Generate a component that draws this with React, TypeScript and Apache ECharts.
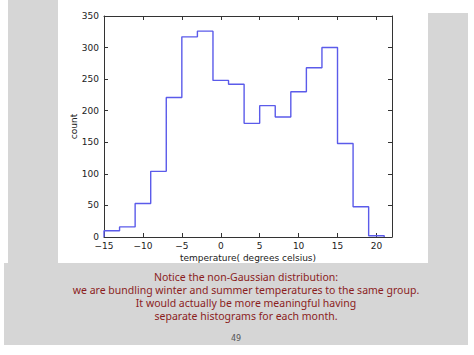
import React, { useEffect, useRef } from "react";
import * as echarts from "echarts";

// Histogram bin edges (degrees celsius) and counts per bin
const binEdges = [-15, -13, -11, -9, -7, -5, -3, -1, 1, 3, 5, 7, 9, 11, 13, 15, 17, 19, 21];
const binCounts = [10, 16, 53, 104, 221, 317, 326, 248, 242, 180, 208, 190, 230, 268, 300, 148, 48, 2];

const xTicks = [-15, -10, -5, 0, 5, 10, 15, 20];
const yTicks = [0, 50, 100, 150, 200, 250, 300, 350];

const captionLines = [
  "Notice the non-Gaussian distribution:",
  "we are bundling winter and summer temperatures to the same group.",
  "It would actually be more meaningful having",
  "separate histograms for each month.",
];
const pageNumber = "49";

const fmtMinus = (v: number) => String(v).replace("-", "\u2212");

// Outline of the grey brush-stroke frame (a U shape around the plot)
const frameOutline = [
  [8, 0], [58, 0], [58, 263], [428, 263], [428, 13], [468, 13],
  [468, 345], [4, 345], [4, 263], [8, 263],
];

export default function App() {
  const ref = useRef<HTMLDivElement>(null);

  useEffect(() => {
    if (!ref.current) return;
    const chart = echarts.init(ref.current, undefined, { renderer: "svg" });

    // Step outline: rise from zero at the first edge, fall back to zero at the last edge
    const stepData: number[][] = [[binEdges[0], 0]];
    binCounts.forEach((c, i) => stepData.push([binEdges[i], c]));
    stepData.push([binEdges[binEdges.length - 1], binCounts[binCounts.length - 1]]);
    stepData.push([binEdges[binEdges.length - 1], 0]);

    const axisLine = { show: true, onZero: false, lineStyle: { color: "#333", width: 1 } };
    const tickStyle = { show: true, inside: true, length: 4, lineStyle: { color: "#333" } };
    const labelStyle = { color: "#222", fontSize: 9, fontFamily: "DejaVu Sans" };

    chart.setOption({
      animation: false,
      graphic: {
        elements: [
          {
            type: "polygon",
            silent: true,
            z: 100,
            shape: { points: frameOutline },
            style: { fill: "#d6d6d6" },
          },
          {
            type: "text",
            z: 110,
            x: 246,
            y: 270,
            style: {
              text: captionLines.join("\n"),
              fill: "#8b1d1d",
              fontSize: 10.5,
              lineHeight: 13,
              fontFamily: "Noto Sans",
              align: "center",
              verticalAlign: "top",
            },
          },
          {
            type: "text",
            z: 110,
            x: 236,
            y: 338,
            style: {
              text: pageNumber,
              fill: "#555",
              fontSize: 8,
              fontFamily: "DejaVu Sans",
              align: "center",
              verticalAlign: "middle",
            },
          },
        ],
      },
      grid: { left: 104, top: 16, width: 288, height: 221, containLabel: false },
      xAxis: [
        {
          type: "value",
          min: -15,
          max: 22,
          interval: 5,
          name: "temperature( degrees celsius)",
          nameLocation: "middle",
          nameGap: 16,
          nameMoveOverlap: false,
          nameTextStyle: { color: "#222", fontSize: 9, fontFamily: "DejaVu Sans" },
          axisLine,
          axisTick: tickStyle,
          axisLabel: {
            ...labelStyle,
            margin: 4,
            showMaxLabel: false,
            formatter: (v: number) => (xTicks.includes(v) ? fmtMinus(v) : ""),
          },
          splitLine: { show: false },
        },
        {
          type: "value",
          position: "top",
          min: -15,
          max: 22,
          interval: 5,
          axisLine,
          axisTick: tickStyle,
          axisLabel: { show: false },
          splitLine: { show: false },
        },
      ],
      yAxis: [
        {
          type: "value",
          min: 0,
          max: 350,
          interval: 50,
          name: "count",
          nameLocation: "middle",
          nameGap: 26,
          nameMoveOverlap: false,
          nameTextStyle: { color: "#222", fontSize: 9, fontFamily: "DejaVu Sans" },
          axisLine,
          axisTick: tickStyle,
          axisLabel: {
            ...labelStyle,
            margin: 5,
            formatter: (v: number) => (yTicks.includes(v) ? String(v) : ""),
          },
          splitLine: { show: false },
        },
        {
          type: "value",
          position: "right",
          min: 0,
          max: 350,
          interval: 50,
          axisLine,
          axisTick: tickStyle,
          axisLabel: { show: false },
          splitLine: { show: false },
        },
      ],
      series: [
        {
          type: "line",
          step: "end",
          data: stepData,
          showSymbol: false,
          symbol: "none",
          lineStyle: { color: "#5b5bea", width: 1.4 },
          clip: false,
        },
      ],
    });

    return () => chart.dispose();
  }, []);

  return (
    <div
      ref={ref}
      style={{ position: "fixed", left: 0, top: 0, width: 474, height: 355, background: "#fff" }}
    />
  );
}
